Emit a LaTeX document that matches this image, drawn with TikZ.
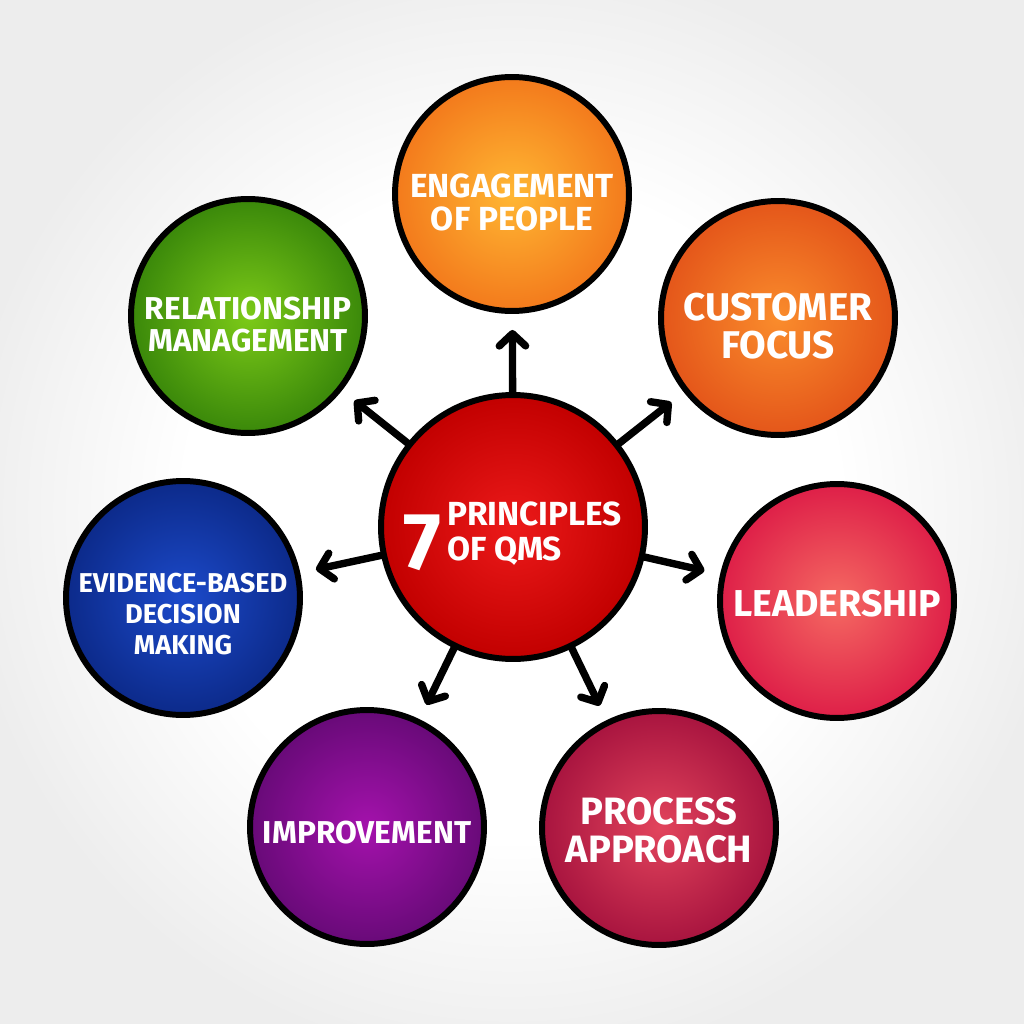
\documentclass[tikz,border=0pt]{standalone}
\usepackage{fontspec}
\setmainfont{Fira Sans}
\usetikzlibrary{arrows.meta}
\definecolor{bggray}{HTML}{EDEDED}
\definecolor{engIn}{HTML}{FFB733}\definecolor{engOut}{HTML}{F37A1C}
\definecolor{cusIn}{HTML}{FA8C2C}\definecolor{cusOut}{HTML}{E4561A}
\definecolor{leaIn}{HTML}{F56A62}\definecolor{leaOut}{HTML}{DE1F48}
\definecolor{proIn}{HTML}{E2445C}\definecolor{proOut}{HTML}{A8143F}
\definecolor{impIn}{HTML}{A412AC}\definecolor{impOut}{HTML}{680A78}
\definecolor{eviIn}{HTML}{1C4ACA}\definecolor{eviOut}{HTML}{0C2A8A}
\definecolor{relIn}{HTML}{7CCA18}\definecolor{relOut}{HTML}{3A880A}
\definecolor{cenIn}{HTML}{EC1A1A}\definecolor{cenOut}{HTML}{C20000}
\pgfdeclareradialshading{bgshade}{\pgfpoint{0bp}{0bp}}{color(0bp)=(white); color(16bp)=(white); color(27bp)=(bggray); color(50bp)=(bggray)}
\newcommand{\lowtext}[2]{\raisebox{-#1}[\height][\depth]{\begin{tabular}{@{}c@{}}#2\end{tabular}}}
\begin{document}
\begin{tikzpicture}[x=0.02cm,y=-0.02cm,
  bubble/.style={circle, draw=black, line width=3.4pt, minimum size=4.68cm, inner sep=0pt,
    align=center, text=white, font=\bfseries\fontsize{18}{19.5}\selectfont},
  link/.style={line width=4.2pt, line cap=round,
    -{Straight Barb[length=7pt,width=15pt,line cap=round,line join=round]}, shorten >=0.32cm}]
\shade[shading=bgshade] (0,0) rectangle (1024,1024);
\useasboundingbox (0,0) rectangle (1024,1024);
\node[bubble, minimum size=5.28cm, inner color=cenIn, outer color=cenOut, font=\bfseries\fontsize{19}{20}\selectfont] (cen) at (513,527)
  {\raisebox{-5pt}[\height][\depth]{\begin{tabular}{@{}c@{\hspace{3pt}}l@{}}\raisebox{-0.48\height}{\fontsize{46}{46}\selectfont 7} &
   \begin{tabular}[c]{@{}l@{}}PRINCIPLES\\OF QMS\end{tabular}\end{tabular}}};
\node[bubble, inner color=engIn, outer color=engOut, font=\bfseries\fontsize{19}{19}\selectfont] (eng) at (512,194) {\lowtext{7.5pt}{ENGAGEMENT\\OF PEOPLE}};
\node[bubble, inner color=cusIn, outer color=cusOut, font=\bfseries\fontsize{22}{20}\selectfont] (cus) at (778,318) {\lowtext{7.5pt}{CUSTOMER\\FOCUS}};
\node[bubble, inner color=leaIn, outer color=leaOut, font=\bfseries\fontsize{21.3}{22}\selectfont] (lea) at (837,601) {\lowtext{4.5pt}{LEADERSHIP}};
\node[bubble, inner color=proIn, outer color=proOut, font=\bfseries\fontsize{21.7}{21.5}\selectfont] (pro) at (659,828) {\lowtext{4.5pt}{PROCESS\\APPROACH}};
\node[bubble, inner color=impIn, outer color=impOut] (imp) at (367,827) {\lowtext{5.5pt}{IMPROVEMENT}};
\node[bubble, inner color=eviIn, outer color=eviOut, font=\bfseries\fontsize{15.5}{17.5}\selectfont] (evi) at (183,598) {\lowtext{11pt}{EVIDENCE-BASED\\DECISION\\MAKING}};
\node[bubble, inner color=relIn, outer color=relOut, font=\bfseries\fontsize{18}{17.5}\selectfont] (rel) at (248,316) {\lowtext{7.5pt}{RELATIONSHIP\\MANAGEMENT}};
\foreach \t in {eng,cus,lea,pro,imp,evi,rel}
  \draw[link] (cen) -- (\t);
\end{tikzpicture}
\end{document}
